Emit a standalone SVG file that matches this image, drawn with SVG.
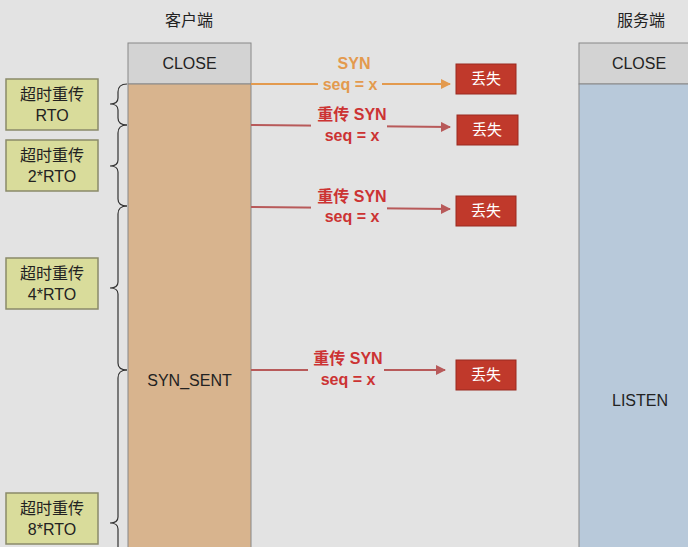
<svg xmlns="http://www.w3.org/2000/svg" width="688" height="547" viewBox="0 0 688 547">
<style>
text{font-family:"Liberation Sans","Noto Sans CJK SC",sans-serif;text-anchor:middle}
.note rect{fill:#d9dc9b;stroke:#8a8a6a;stroke-width:1.5}
.note text{font-size:16px;fill:#222}
.lost rect{fill:#c0392b;stroke:#9a2a20}
.lost text{font-size:15px;fill:#fff}
.brace{fill:none;stroke:#333;stroke-width:1.2}
.lbl{font-size:16px;font-weight:bold}
</style>
<defs>
<marker id="ao" markerWidth="10" markerHeight="10" refX="9" refY="5" orient="auto" markerUnits="userSpaceOnUse"><path d="M0,0 L10,5 L0,10 z" fill="#e39a4e"/></marker>
<marker id="ar" markerWidth="10" markerHeight="10" refX="9" refY="5" orient="auto" markerUnits="userSpaceOnUse"><path d="M0,0 L10,5 L0,10 z" fill="#b85a5a"/></marker>
</defs>
<rect width="688" height="547" fill="#e3e3e3"/>
<text x="189" y="26" font-size="16" fill="#222">客户端</text>
<text x="641" y="26" font-size="16" fill="#222">服务端</text>
<g id="client">
<rect x="128" y="43" width="123" height="41" fill="#d3d3d3" stroke="#888"/>
<text x="189.5" y="69" font-size="16" fill="#222">CLOSE</text>
<rect x="128" y="84" width="123" height="470" fill="#d8b48e" stroke="#888"/>
<text x="189.5" y="386" font-size="16" fill="#222">SYN_SENT</text>
</g>
<g id="server">
<rect x="579" y="43" width="120" height="41" fill="#d3d3d3" stroke="#888"/>
<text x="639" y="69" font-size="16" fill="#222">CLOSE</text>
<rect x="579" y="84" width="120" height="470" fill="#b8c9da" stroke="#888"/>
<text x="640" y="406" font-size="16" fill="#222">LISTEN</text>
</g>
<g id="notes">
<g class="note" id="n1"><rect x="6" y="79" width="92" height="51"/><text x="52" y="100">超时重传</text><text x="52" y="121">RTO</text></g>
<g class="note" id="n2"><rect x="6" y="140" width="92" height="51"/><text x="52" y="161">超时重传</text><text x="52" y="182">2*RTO</text></g>
<g class="note" id="n3"><rect x="6" y="258" width="92" height="51"/><text x="52" y="279">超时重传</text><text x="52" y="300">4*RTO</text></g>
<g class="note" id="n4"><rect x="6" y="493" width="92" height="51"/><text x="52" y="514">超时重传</text><text x="52" y="535">8*RTO</text></g>
</g>
<g id="braces">
<path class="brace" d="M127,84 Q118,84 118,92 L118,98 Q118,104 110,104 Q118,104 118,110 L118,118 Q118,125 127,125"/>
<path class="brace" d="M127,125 Q118,125 118,133 L118,160 Q118,166 110,166 Q118,166 118,172 L118,199 Q118,206 127,206"/>
<path class="brace" d="M127,206 Q118,206 118,214 L118,282 Q118,288 110,288 Q118,288 118,294 L118,363 Q118,370 127,370"/>
<path class="brace" d="M127,370 Q118,370 118,378 L118,517 Q118,523 110,523 Q118,523 118,529 L118,547"/>
</g>
<g id="lost">
<g class="lost"><rect x="456" y="64" width="60" height="30"/><text x="486" y="84">丢失</text></g>
<g class="lost"><rect x="457" y="115" width="61" height="30"/><text x="487" y="135">丢失</text></g>
<g class="lost"><rect x="456" y="196" width="60" height="30"/><text x="486" y="216">丢失</text></g>
<g class="lost"><rect x="456" y="360" width="60" height="30"/><text x="486" y="380">丢失</text></g>
</g>
<g id="connectors">
<line x1="251" y1="84" x2="450" y2="84" stroke="#e39a4e" stroke-width="2" marker-end="url(#ao)"/>
<rect x="318" y="76" width="64" height="16" fill="#e3e3e3"/>
<text class="lbl" x="354" y="69" fill="#e39a4e">SYN</text>
<text class="lbl" x="350" y="90" fill="#e39a4e">seq = x</text>
<path d="M251,125 L450,127" stroke="#b85a5a" stroke-width="2" fill="none" marker-end="url(#ar)"/>
<rect x="311" y="106" width="76" height="38" fill="#e3e3e3"/>
<text class="lbl" x="352" y="120" fill="#cc3333">重传 SYN</text>
<text class="lbl" x="352" y="141" fill="#cc3333">seq = x</text>
<path d="M251,207 L450,209" stroke="#b85a5a" stroke-width="2" fill="none" marker-end="url(#ar)"/>
<rect x="311" y="188" width="76" height="38" fill="#e3e3e3"/>
<text class="lbl" x="352" y="202" fill="#cc3333">重传 SYN</text>
<text class="lbl" x="352" y="222" fill="#cc3333">seq = x</text>
<path d="M251,370 L445,370" stroke="#b85a5a" stroke-width="2" fill="none" marker-end="url(#ar)"/>
<rect x="308" y="350" width="76" height="38" fill="#e3e3e3"/>
<text class="lbl" x="348" y="364" fill="#cc3333">重传 SYN</text>
<text class="lbl" x="348" y="385" fill="#cc3333">seq = x</text>
</g>
</svg>
